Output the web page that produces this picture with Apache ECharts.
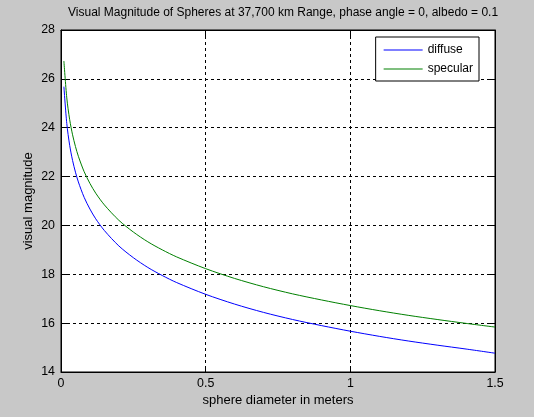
<!DOCTYPE html>
<html>
<head>
<meta charset="utf-8">
<script src="https://cdn.jsdelivr.net/npm/echarts@6/dist/echarts.min.js"></script>
<style>
  html, body { margin: 0; padding: 0; background: #c8c8c8; }
  #chart { width: 534px; height: 417px; }
</style>
</head>
<body>
<div id="chart"></div>
<script>
// sphere diameter (m) and magnitudes
const diameters = [0.01, 0.02, 0.03, 0.04, 0.05, 0.06, 0.08, 0.1, 0.12, 0.15, 0.2, 0.25, 0.3, 0.35, 0.4, 0.5, 0.6, 0.7, 0.8, 0.9, 1.0, 1.1, 1.2, 1.3, 1.4, 1.5];
const diffuse = [25.68, 24.17, 23.28, 22.66, 22.18, 21.78, 21.15, 20.67, 20.27, 19.79, 19.16, 18.68, 18.28, 17.95, 17.66, 17.18, 16.78, 16.44, 16.15, 15.90, 15.67, 15.46, 15.27, 15.10, 14.94, 14.77];
const specular = [26.73, 25.22, 24.33, 23.71, 23.23, 22.83, 22.20, 21.72, 21.32, 20.84, 20.21, 19.73, 19.33, 19.00, 18.71, 18.23, 17.83, 17.49, 17.20, 16.95, 16.72, 16.51, 16.32, 16.15, 15.99, 15.84];
const xTicks = [0, 0.5, 1, 1.5];
const yTicks = [14, 16, 18, 20, 22, 24, 26, 28];

const font = 'Liberation Sans, Arial, sans-serif';
const pair = (xs, ys) => xs.map((x, i) => [x, ys[i]]);

const chart = echarts.init(document.getElementById('chart'));

const baseX = {
  type: 'value', min: 0, max: 1.5, interval: 0.5,
  axisLine: { show: true, onZero: false, lineStyle: { color: '#000', width: 1 } },
  axisTick: { show: true, inside: true, length: 6, lineStyle: { color: '#000' } },
  splitLine: { show: false }
};
const baseY = {
  type: 'value', min: 14, max: 28, interval: 2,
  axisLine: { show: true, onZero: false, lineStyle: { color: '#000', width: 1 } },
  axisTick: { show: true, inside: true, length: 6, lineStyle: { color: '#000' } },
  splitLine: { show: false }
};

chart.setOption({
  animation: false,
  backgroundColor: '#c8c8c8',
  textStyle: { fontFamily: font },
  title: {
    text: 'Visual Magnitude of Spheres at 37,700 km Range, phase angle = 0, albedo = 0.1',
    left: 68, top: 7, padding: 0,
    textStyle: { fontSize: 12, fontWeight: 'normal', color: '#000', fontFamily: font }
  },
  grid: {
    left: 61, right: 39, top: 30, bottom: 45,
    show: true, backgroundColor: '#fff', borderColor: '#000', borderWidth: 1
  },
  legend: {
    orient: 'vertical', right: 55, top: 37,
    data: ['diffuse', 'specular'],
    backgroundColor: '#fff', borderColor: '#000', borderWidth: 1,
    padding: [7, 6, 6, 8], itemGap: 7,
    itemWidth: 39, itemHeight: 1, icon: 'rect',
    textStyle: { fontSize: 12, color: '#000', fontFamily: font }
  },
  xAxis: [
    Object.assign({}, baseX, {
      position: 'bottom',
      name: 'sphere diameter in meters', nameLocation: 'middle', nameGap: 22,
      nameMoveOverlap: false,
      nameTextStyle: { fontSize: 13, color: '#000', fontFamily: font },
      axisLabel: { color: '#000', fontSize: 12.4, margin: 6, fontFamily: font,
        formatter: v => (xTicks.includes(v) ? String(v) : '') },
      splitLine: { show: true, lineStyle: { color: '#000', type: [3, 3], width: 1 } }
    }),
    Object.assign({}, baseX, { position: 'top', axisLabel: { show: false } })
  ],
  yAxis: [
    Object.assign({}, baseY, {
      position: 'left',
      name: 'visual magnitude', nameLocation: 'middle', nameGap: 26, nameRotate: 90,
      nameMoveOverlap: false,
      nameTextStyle: { fontSize: 13, color: '#000', fontFamily: font },
      axisLabel: { color: '#000', fontSize: 12.4, margin: 6, fontFamily: font,
        formatter: v => (yTicks.includes(v) ? String(v) : '') },
      splitLine: { show: true, lineStyle: { color: '#000', type: [3, 3], width: 1 } }
    }),
    Object.assign({}, baseY, { position: 'right', axisLabel: { show: false } })
  ],
  series: [
    {
      name: 'diffuse', type: 'line', data: pair(diameters, diffuse),
      showSymbol: false, smooth: 0.3, color: '#0000ff',
      lineStyle: { color: '#0000ff', width: 1 }
    },
    {
      name: 'specular', type: 'line', data: pair(diameters, specular),
      showSymbol: false, smooth: 0.3, color: '#008000',
      lineStyle: { color: '#008000', width: 1 }
    }
  ]
});
</script>
</body>
</html>
